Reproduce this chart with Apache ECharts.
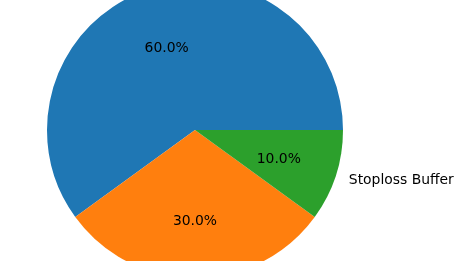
<!DOCTYPE html>
<html><head><meta charset="utf-8">
<script src="https://cdn.jsdelivr.net/npm/echarts@6/dist/echarts.min.js"></script>
<style>html,body{margin:0;padding:0;background:#fff}#c{width:464px;height:261px}</style>
</head><body><div id="c"></div>
<script>
const categories = ['', '', 'Stoploss Buffer'];
const values = [60, 30, 10];
const colors = ['#1f77b4', '#ff7f0e', '#2ca02c'];

const cx = 195, cy = 130, R = 148;
const font = 'DejaVu Sans';
const fs = 13.9;
const pctShift = [[0, 5.5], [0, -0.5], [-3.5, 1.5]];

const chart = echarts.init(document.getElementById('c'), null, {renderer: 'canvas'});
const baseData = categories.map((n, i) => ({name: n, value: values[i], itemStyle: {color: colors[i]}}));
chart.setOption({
  animation: false,
  series: [
    {
      type: 'pie', center: [cx, cy], radius: [0, R], startAngle: 0, clockwise: false,
      avoidLabelOverlap: false, silent: true, emphasis: {disabled: true},
      itemStyle: {borderWidth: 0},
      label: {show: true, position: 'outside', formatter: '{b}', color: '#000',
        fontFamily: font, fontSize: fs, distanceToLabelLine: -1, padding: [2, 0, 0, 0]},
      labelLine: {show: false, length: R * 0.1, length2: 0},
      labelLayout: {hideOverlap: false},
      data: baseData
    },
    {
      type: 'pie', center: [cx, cy], radius: [R * 0.6 - 1, R * 0.6 + 1], startAngle: 0, clockwise: false,
      avoidLabelOverlap: false, silent: true, emphasis: {disabled: true},
      itemStyle: {color: 'rgba(0,0,0,0)', borderWidth: 0},
      label: {show: true, position: 'inside', color: '#000', fontFamily: font, fontSize: fs,
        formatter: p => p.value.toFixed(1) + '%'},
      labelLine: {show: false},
      labelLayout: p => ({dx: pctShift[p.dataIndex][0], dy: pctShift[p.dataIndex][1], hideOverlap: false}),
      data: categories.map((n, i) => ({name: 'p' + i, value: values[i]}))
    }
  ]
});
</script></body></html>
